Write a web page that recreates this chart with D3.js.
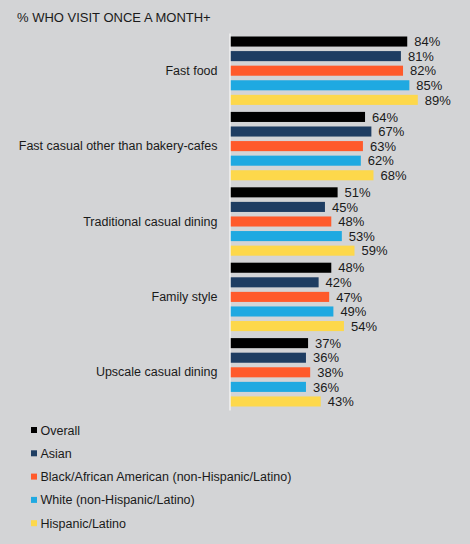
<!DOCTYPE html>
<html>
<head>
<meta charset="utf-8">
<script src="https://cdn.jsdelivr.net/npm/d3@7"></script>
<style>
  body { margin: 0; background: #d3d4d6; }
  text { font-family: "Liberation Sans", Arial, sans-serif; fill: #1a1a1a; }
</style>
</head>
<body>
<div id="chart"></div>
<script>
const categories = ["Fast food", "Fast casual other than bakery-cafes", "Traditional casual dining", "Family style", "Upscale casual dining"];
const seriesNames = ["Overall", "Asian", "Black/African American (non-Hispanic/Latino)", "White (non-Hispanic/Latino)", "Hispanic/Latino"];
const overall  = [84, 64, 51, 48, 37];
const asian    = [81, 67, 45, 42, 36];
const black    = [82, 63, 48, 47, 38];
const white    = [85, 62, 53, 49, 36];
const hispanic = [89, 68, 59, 54, 43];
const colors = ["#000000", "#1e3d62", "#ff5a2b", "#1fa9e1", "#fdd84b"];

const seriesValues = [overall, asian, black, white, hispanic];

const width = 470;
const height = 544;
const margin = { top: 33, left: 230, bottom: 134 };

const svg = d3.select("#chart")
    .append("svg")
    .attr("width", width)
    .attr("height", height);

svg.append("rect")
    .attr("width", width)
    .attr("height", height)
    .attr("fill", "#d3d4d6");

svg.append("text")
    .attr("x", 17)
    .attr("y", 22)
    .style("font-size", "13px")
    .text("% WHO VISIT ONCE A MONTH+");

const xScale = d3.scaleLinear().domain([0, 100]).range([margin.left, margin.left + 211]);
const y0 = d3.scaleBand().domain(categories).range([margin.top, height - margin.bottom]);
const y1 = d3.scaleBand().domain(seriesNames).range([0, y0.bandwidth()])
    .paddingInner(0.31).paddingOuter(0.24);

const rows = [];
categories.forEach((c, i) => {
    seriesNames.forEach((s, j) => {
        rows.push({ cat: c, series: s, value: seriesValues[j][i], color: colors[j] });
    });
});

const g = svg.append("g");

g.selectAll("rect.bar")
    .data(rows)
    .join("rect")
    .attr("class", "bar")
    .attr("x", xScale(0))
    .attr("y", d => y0(d.cat) + y1(d.series))
    .attr("width", d => xScale(d.value) - xScale(0))
    .attr("height", y1.bandwidth())
    .attr("fill", d => d.color);

g.selectAll("text.val")
    .data(rows)
    .join("text")
    .attr("class", "val")
    .attr("x", d => xScale(d.value) + 7)
    .attr("y", d => y0(d.cat) + y1(d.series) + y1.bandwidth() / 2)
    .attr("dy", "0.36em")
    .style("font-size", "13px")
    .text(d => d.value + "%");

// category axis
const yAxis = svg.append("g")
    .attr("transform", `translate(${margin.left - 0.5},0)`)
    .call(d3.axisLeft(y0).tickSize(0).tickPadding(12));
yAxis.select(".domain").attr("stroke", "#f2f2f2").attr("stroke-width", 1.5);
yAxis.selectAll("text")
    .style("font-size", "12.5px")
    .style("font-family", "'Liberation Sans', Arial, sans-serif")
    .attr("fill", "#1a1a1a");

// legend
const legend = svg.append("g")
    .selectAll("g")
    .data(seriesNames)
    .join("g")
    .attr("transform", (d, i) => `translate(31,${430 + i * 23.3})`);

legend.append("rect")
    .attr("x", 0)
    .attr("y", -3)
    .attr("width", 6)
    .attr("height", 6)
    .attr("fill", (d, i) => colors[i]);

legend.append("text")
    .attr("x", 9.5)
    .attr("dy", "0.36em")
    .style("font-size", "12.5px")
    .text(d => d);
</script>
</body>
</html>
